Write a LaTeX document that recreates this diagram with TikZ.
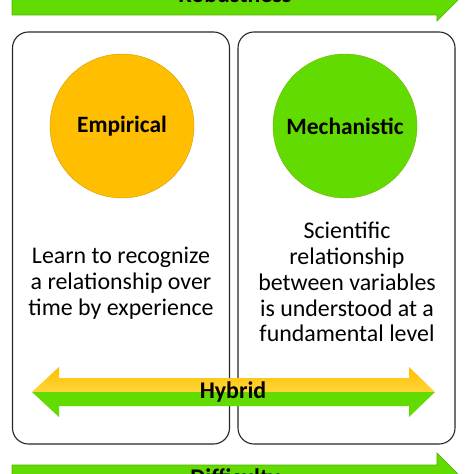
\documentclass[tikz,border=0pt]{standalone}
\usepackage{fontspec}
\setmainfont{Carlito}
\usetikzlibrary{positioning}
\definecolor{leafgreen}{HTML}{62DC00}
\definecolor{edgegreen}{HTML}{4DB000}
\definecolor{gold}{HTML}{FFBE00}
\definecolor{edgegold}{HTML}{D09A00}
\definecolor{lightgold}{HTML}{FFD53A}
\tikzset{line width=.8pt,
  panel/.style={draw=black!85,line width=1.1pt,rounded corners=16bp,
    minimum width=217bp,minimum height=412bp,inner sep=0pt},
  model/.style={circle,minimum size=144bp,inner sep=0pt,
    font=\fontsize{23.5}{26}\selectfont\bfseries},
  note/.style={align=center,font=\fontsize{24}{26}\selectfont},
  band/.style={fill=leafgreen,draw=edgegreen,line width=.6pt},
  bandlabel/.style={anchor=base,font=\fontsize{24}{28}\selectfont\bfseries}}

\begin{document}
\begin{tikzpicture}[x=1bp,y=-1bp]
\useasboundingbox (0,0) rectangle (474,474);
\clip (0,0) rectangle (474,474);
% green bands above and below, cut by the page edge
\draw[band] (12,-25) -- (437,-25) -- (437,-31) -- (463,-5) -- (437,21) -- (437,15) -- (12,15) -- cycle;
\node[bandlabel] (robust) at (235,3) {Robustness};
\draw[band] (12,465) -- (437,465) -- (437,453) -- (469,485) -- (437,517) -- (437,505) -- (12,505) -- cycle;
\node[bandlabel] (diffic) at (235,485) {Difficulty};
\node[panel] (empbox) at (121,238) {};
\node[panel] (mechbox) at (346.5,238) {};
\node[model,fill=gold,draw=edgegold] (emp) at (122,126) {Empirical};
\node[model,fill=leafgreen,draw=edgegreen!80!gold] (mech) at (345,126) {Mechanistic};
\node[note] (empnote) at (121,283) {Learn to recognize\\a relationship over\\time by experience};
\node[note] (mechnote) at (347,282) {Scientific\\relationship\\between variables\\is understood at a\\fundamental level};
% two-tone double arrow
\shade[top color=gold,bottom color=lightgold] (32,392) -- (59,367) -- (59,378) -- (409,378) -- (409,367) -- (435,392) -- cycle;
\fill[leafgreen] (32,392) -- (435,392) -- (409,417) -- (409,406) -- (59,406) -- (59,417) -- cycle;
\node[bandlabel,anchor=center] (hybrid) at (233,392) {Hybrid};
\end{tikzpicture}
\end{document}
